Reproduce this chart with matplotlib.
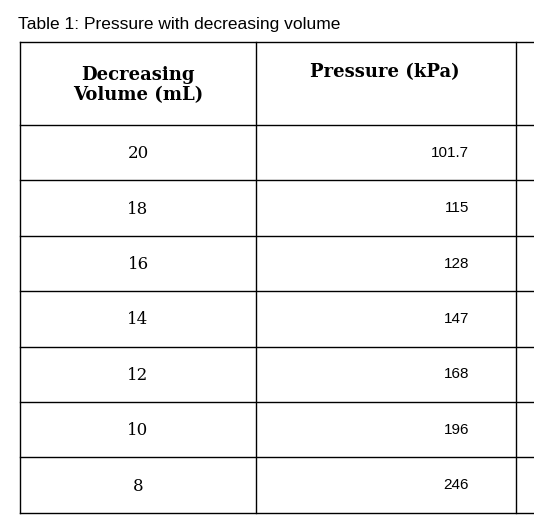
import matplotlib
matplotlib.use("Agg")
import matplotlib.pyplot as plt

title = "Table 1: Pressure with decreasing volume"
col_headers = ["Decreasing\nVolume (mL)", "Pressure (kPa)"]
volume = ["20", "18", "16", "14", "12", "10", "8"]
pressure = ["101.7", "115", "128", "147", "168", "196", "246"]

W, H = 534, 530
fig = plt.figure(figsize=(W / 100, H / 100), dpi=100)
ax = fig.add_axes([0, 0, 1, 1])
ax.set_xlim(0, W)
ax.set_ylim(H, 0)
ax.axis("off")

# layout in pixels
x_cols = [20, 256, 516]
y_top, y_head = 42, 125
row_h = 55.4
lw = 1.0

ax.text(18, 24, title, fontsize=12.5, family="Liberation Sans", va="center", ha="left")

y_lines = [y_top, y_head] + [y_head + row_h * (i + 1) for i in range(len(volume))]
for y in y_lines:
    ax.plot([x_cols[0], W], [y, y], color="black", lw=lw)
for x in x_cols:
    ax.plot([x, x], [y_top, y_lines[-1]], color="black", lw=lw)

ax.text(138, 85, col_headers[0], fontsize=13, family="DejaVu Serif", weight="bold",
        ha="center", va="center", linespacing=1.2)
ax.text(385, 72, col_headers[1], fontsize=13, family="DejaVu Serif", weight="bold",
        ha="center", va="center")

for i, (v, p) in enumerate(zip(volume, pressure)):
    yc = y_head + row_h * (i + 0.5)
    ax.text(138, yc + 1, v, fontsize=12, family="DejaVu Serif", ha="center", va="center")
    ax.text(469, yc, p, fontsize=11, family="Liberation Sans", ha="right", va="center")

fig.savefig("out.png", dpi=100)
